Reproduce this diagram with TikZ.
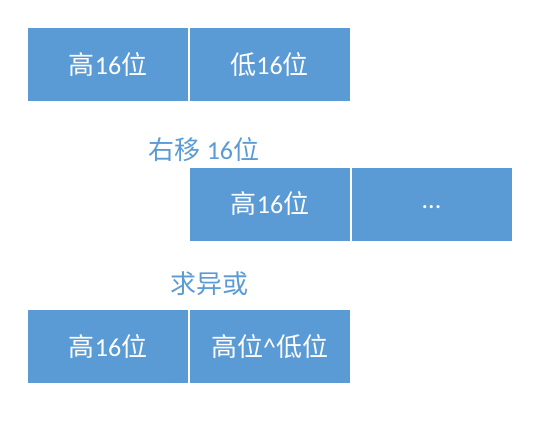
\documentclass[tikz,border=0pt]{standalone}
\usepackage{fontspec}
\setmainfont{Carlito}
\newfontfamily\cjk{Noto Sans CJK SC}
\usetikzlibrary{positioning}
\definecolor{cellblue}{HTML}{5B9BD5}

\begin{document}
\begin{tikzpicture}[x=0.75pt,y=-0.75pt]
    \tikzset{cell/.style={fill=cellblue,text=white,inner sep=0,minimum width=120pt,minimum height=54.75pt,font=\fontsize{19.5}{22}\selectfont}};
    \tikzset{tag/.style={text=cellblue,inner sep=0,font=\fontsize{19.5}{22}\selectfont}};
    \newcommand{\gap}{0.75pt};
    \useasboundingbox (0,0) rectangle (538,422);
    % first row
    \node[cell] (hiA) at (108,64.5) {{\cjk 高}16{\cjk 位}};
    \node[cell,right=\gap of hiA] (loA) {{\cjk 低}16{\cjk 位}};
    % shifted row
    \node[tag] (shift) at (204,150) {{\cjk 右移} 16{\cjk 位}};
    \node[cell] (hiB) at (270,204) {{\cjk 高}16{\cjk 位}};
    \node[cell,right=\gap of hiB] (dots) {\raisebox{-0.7ex}{...}};
    % result row
    \node[tag] (xor) at (209,284) {\cjk 求异或};
    \node[cell] (hiC) at (108,346.5) {{\cjk 高}16{\cjk 位}};
    \node[cell,right=\gap of hiC] (mix) {{\cjk 高位}\^{}{\cjk 低位}};
\end{tikzpicture}
\end{document}
